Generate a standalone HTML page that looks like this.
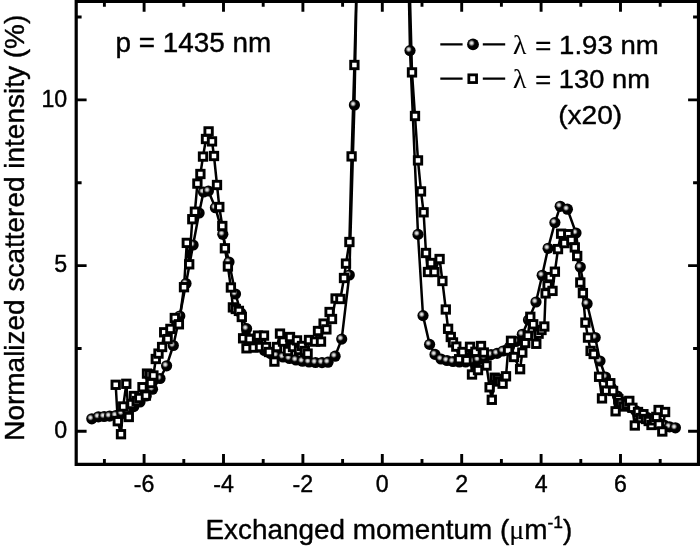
<!DOCTYPE html>
<html lang="en">
<head>
<meta charset="utf-8">
<title>Normalized scattered intensity vs exchanged momentum</title>
<style>html,body{margin:0;padding:0;background:#fff}svg{display:block}</style>
</head>
<body>
<svg width="700" height="549" viewBox="0 0 700 549">
<defs>
<radialGradient id="ball" cx="0.38" cy="0.39" r="0.69" fx="0.38" fy="0.39"><stop offset="0" stop-color="#ececec"/><stop offset="0.13" stop-color="#d4d4d4"/><stop offset="0.26" stop-color="#777"/><stop offset="0.37" stop-color="#141414"/><stop offset="0.45" stop-color="#000"/><stop offset="1" stop-color="#000"/></radialGradient>
<clipPath id="plot"><rect x="76.2" y="1.3" width="622.3" height="463"/></clipPath>
<circle id="c" r="5.6" fill="url(#ball)"/>
<rect id="s" x="-3.7" y="-3.7" width="7.4" height="7.4" fill="#fff" stroke="#000" stroke-width="2.9"/>
</defs>
<rect width="700" height="549" fill="#fff"/>
<g clip-path="url(#plot)">
<g fill="none" stroke="#000" stroke-width="2.5" stroke-linejoin="round">
<polyline points="91.8,418.8 98.4,416.8 104.1,416.5 109.6,416.1 115.9,415.5 122,413.5 127.8,410.5 133.8,406.6 140,402 146.2,396 152.5,389.2 160,378.5 166.6,365.8 173.3,345.5 179.8,316 186,283.5 193.1,245 199.1,213 203.5,192 208.4,191 215.4,207.7 222.8,234.3 229,262 235.5,294 241,313 246.6,328.7 252.5,339 258.5,346 264.5,350.5 270.5,353.5 276.5,355.5 283,357 289.5,358.5 296,360 302.5,361.2 309,362 315.5,362.5 322,362.6 328,362.2 335.1,356.2 341.7,339.1 349.3,275 354.4,105 359.4,-157"/>
<polyline points="405,-200 410,50.6 418,234.4 423,315.6 429.6,344.4 435,354.4 441,359 447,360.5 453,361.5 459.3,362 465.7,362 472,361.3 478.3,359.8 484.7,357.5 491,354.6 497,353.4 503,351 509.5,347 516,341.5 522.3,334.3 528.5,320 536,302 542.2,275.3 548.1,248.3 554.9,222.6 560.2,206.3 567.4,209.2 576,233 580.3,267 587.1,303.7 595.2,337.5 600,361 605.5,377 611.5,388 617.5,396 623.5,402 629.5,406.5 635.5,410.5 641.5,414 647.5,417.5 653.5,420.5 659,423 664,425 669.5,426.8 675.4,427.8"/>
<polyline points="115.7,384.8 117.8,421.2 121,434.2 123.2,406.5 126.3,383.8 128.8,417 131.5,404 134,396 136.7,401 139.3,398 142.5,387.2 145.9,395.6 147,373.6 150,374.3 151,383 153.4,375.5 155.8,359 158.5,353.6 162.1,347 164.2,332.3 167.6,339.1 170.4,328.9 174.8,318 178.9,324.3 184,287.2 186.8,242.9 189.2,264.3 192.3,219.2 194.9,211.7 197.4,183.6 200.4,174 203,156.6 206,139 208.6,131.4 212,141.4 214,156 217,185 219.3,207 222.3,226 224.9,248.3 227.9,266.5 230.9,287.5 232.9,307.4 235.8,309 238.9,310.9 241.8,317 243.1,338.3 246.5,348.3 249.6,339 253.6,347.6 258,335.6 260,347 264,335.6 266,347 269,352 274.4,361.6 277,347 280,333.6 283,341.6 288,351 290,337 293,347 297,340.4 299,350 302,346 304.8,351 307.6,353.6 309,340 315,341.6 318,331 321,341.6 323.6,323.6 326.4,329.4 329.6,312 332,319 335.6,298.5 340.4,299 344,278 346,263.6 349.4,242 351.6,156.4 354.4,65 357.2,-40"/>
<polyline points="409.2,-30 412,72.4 415,116 418,160.4 421,191.4 423.6,212.3 426,253 428,272 431,263 434.4,272 439.6,259 442.4,281 445.8,309.5 448.1,328.8 450.8,337 453,342.4 456.3,346.6 459.1,359.2 462.5,352 466.5,360.2 470,346.8 472,374.5 475.4,351.8 478,370.1 481,346 483.8,352.5 486.5,365.5 489.6,387.3 491.8,399.8 494.7,377.7 497.4,378.8 500,381.5 502.6,383.7 506,376.3 508.1,350.5 511,340.8 514,357 520.1,369.2 522.3,352.6 525.2,343 527.9,335.7 530.3,316.8 533.2,324.3 536.3,343.8 538.6,333.7 541.5,330 544.3,326.5 545.6,293.4 547.6,285.4 549.8,277.1 552.5,290.9 554.9,271.7 558,249.1 561.1,233.7 564.5,243.1 568.3,234.2 571.4,240.1 574.8,247.4 577.2,256 580.3,282.5 582.9,293.1 585.4,322.6 588,337.6 590.6,350.9 593.7,354 599.1,376.8 602,398.4 606.2,390.6 610.3,383.2 613.1,391 615.6,411.3 618.4,399.3 621,403 623.5,406.5 626.4,404 629.3,400.9 632.4,407.8 634.8,425.5 638,412 640.7,418 643.4,414.2 646,419 648.7,421 651.5,425 654,420.3 656.3,416.9 658.6,410 658.9,424.5 662.3,431.5 665.1,412"/>
</g>
<use href="#c" x="91.8" y="418.8"/>
<use href="#c" x="98.4" y="416.8"/>
<use href="#c" x="104.1" y="416.5"/>
<use href="#c" x="109.6" y="416.1"/>
<use href="#c" x="115.9" y="415.5"/>
<use href="#c" x="122" y="413.5"/>
<use href="#c" x="127.8" y="410.5"/>
<use href="#c" x="133.8" y="406.6"/>
<use href="#c" x="140" y="402"/>
<use href="#c" x="146.2" y="396"/>
<use href="#c" x="152.5" y="389.2"/>
<use href="#c" x="160" y="378.5"/>
<use href="#c" x="166.6" y="365.8"/>
<use href="#c" x="173.3" y="345.5"/>
<use href="#c" x="179.8" y="316"/>
<use href="#c" x="186" y="283.5"/>
<use href="#c" x="193.1" y="245"/>
<use href="#c" x="199.1" y="213"/>
<use href="#c" x="203.5" y="192"/>
<use href="#c" x="208.4" y="191"/>
<use href="#c" x="215.4" y="207.7"/>
<use href="#c" x="222.8" y="234.3"/>
<use href="#c" x="229" y="262"/>
<use href="#c" x="235.5" y="294"/>
<use href="#c" x="241" y="313"/>
<use href="#c" x="246.6" y="328.7"/>
<use href="#c" x="252.5" y="339"/>
<use href="#c" x="258.5" y="346"/>
<use href="#c" x="264.5" y="350.5"/>
<use href="#c" x="270.5" y="353.5"/>
<use href="#c" x="276.5" y="355.5"/>
<use href="#c" x="283" y="357"/>
<use href="#c" x="289.5" y="358.5"/>
<use href="#c" x="296" y="360"/>
<use href="#c" x="302.5" y="361.2"/>
<use href="#c" x="309" y="362"/>
<use href="#c" x="315.5" y="362.5"/>
<use href="#c" x="322" y="362.6"/>
<use href="#c" x="328" y="362.2"/>
<use href="#c" x="335.1" y="356.2"/>
<use href="#c" x="341.7" y="339.1"/>
<use href="#c" x="349.3" y="275"/>
<use href="#c" x="354.4" y="105"/>
<use href="#c" x="410" y="50.6"/>
<use href="#c" x="418" y="234.4"/>
<use href="#c" x="423" y="315.6"/>
<use href="#c" x="429.6" y="344.4"/>
<use href="#c" x="435" y="354.4"/>
<use href="#c" x="441" y="359"/>
<use href="#c" x="447" y="360.5"/>
<use href="#c" x="453" y="361.5"/>
<use href="#c" x="459.3" y="362"/>
<use href="#c" x="465.7" y="362"/>
<use href="#c" x="472" y="361.3"/>
<use href="#c" x="478.3" y="359.8"/>
<use href="#c" x="484.7" y="357.5"/>
<use href="#c" x="491" y="354.6"/>
<use href="#c" x="497" y="353.4"/>
<use href="#c" x="503" y="351"/>
<use href="#c" x="509.5" y="347"/>
<use href="#c" x="516" y="341.5"/>
<use href="#c" x="522.3" y="334.3"/>
<use href="#c" x="528.5" y="320"/>
<use href="#c" x="536" y="302"/>
<use href="#c" x="542.2" y="275.3"/>
<use href="#c" x="548.1" y="248.3"/>
<use href="#c" x="554.9" y="222.6"/>
<use href="#c" x="560.2" y="206.3"/>
<use href="#c" x="567.4" y="209.2"/>
<use href="#c" x="576" y="233"/>
<use href="#c" x="580.3" y="267"/>
<use href="#c" x="587.1" y="303.7"/>
<use href="#c" x="595.2" y="337.5"/>
<use href="#c" x="600" y="361"/>
<use href="#c" x="605.5" y="377"/>
<use href="#c" x="611.5" y="388"/>
<use href="#c" x="617.5" y="396"/>
<use href="#c" x="623.5" y="402"/>
<use href="#c" x="629.5" y="406.5"/>
<use href="#c" x="635.5" y="410.5"/>
<use href="#c" x="641.5" y="414"/>
<use href="#c" x="647.5" y="417.5"/>
<use href="#c" x="653.5" y="420.5"/>
<use href="#c" x="659" y="423"/>
<use href="#c" x="664" y="425"/>
<use href="#c" x="669.5" y="426.8"/>
<use href="#c" x="675.4" y="427.8"/>
<use href="#s" x="115.7" y="384.8"/>
<use href="#s" x="117.8" y="421.2"/>
<use href="#s" x="121" y="434.2"/>
<use href="#s" x="123.2" y="406.5"/>
<use href="#s" x="126.3" y="383.8"/>
<use href="#s" x="128.8" y="417"/>
<use href="#s" x="131.5" y="404"/>
<use href="#s" x="134" y="396"/>
<use href="#s" x="136.7" y="401"/>
<use href="#s" x="139.3" y="398"/>
<use href="#s" x="142.5" y="387.2"/>
<use href="#s" x="145.9" y="395.6"/>
<use href="#s" x="147" y="373.6"/>
<use href="#s" x="150" y="374.3"/>
<use href="#s" x="151" y="383"/>
<use href="#s" x="153.4" y="375.5"/>
<use href="#s" x="155.8" y="359"/>
<use href="#s" x="158.5" y="353.6"/>
<use href="#s" x="162.1" y="347"/>
<use href="#s" x="164.2" y="332.3"/>
<use href="#s" x="167.6" y="339.1"/>
<use href="#s" x="170.4" y="328.9"/>
<use href="#s" x="174.8" y="318"/>
<use href="#s" x="178.9" y="324.3"/>
<use href="#s" x="184" y="287.2"/>
<use href="#s" x="186.8" y="242.9"/>
<use href="#s" x="189.2" y="264.3"/>
<use href="#s" x="192.3" y="219.2"/>
<use href="#s" x="194.9" y="211.7"/>
<use href="#s" x="197.4" y="183.6"/>
<use href="#s" x="200.4" y="174"/>
<use href="#s" x="203" y="156.6"/>
<use href="#s" x="206" y="139"/>
<use href="#s" x="208.6" y="131.4"/>
<use href="#s" x="212" y="141.4"/>
<use href="#s" x="214" y="156"/>
<use href="#s" x="217" y="185"/>
<use href="#s" x="219.3" y="207"/>
<use href="#s" x="222.3" y="226"/>
<use href="#s" x="224.9" y="248.3"/>
<use href="#s" x="227.9" y="266.5"/>
<use href="#s" x="230.9" y="287.5"/>
<use href="#s" x="232.9" y="307.4"/>
<use href="#s" x="235.8" y="309"/>
<use href="#s" x="238.9" y="310.9"/>
<use href="#s" x="241.8" y="317"/>
<use href="#s" x="243.1" y="338.3"/>
<use href="#s" x="246.5" y="348.3"/>
<use href="#s" x="249.6" y="339"/>
<use href="#s" x="253.6" y="347.6"/>
<use href="#s" x="258" y="335.6"/>
<use href="#s" x="260" y="347"/>
<use href="#s" x="264" y="335.6"/>
<use href="#s" x="266" y="347"/>
<use href="#s" x="269" y="352"/>
<use href="#s" x="274.4" y="361.6"/>
<use href="#s" x="277" y="347"/>
<use href="#s" x="280" y="333.6"/>
<use href="#s" x="283" y="341.6"/>
<use href="#s" x="288" y="351"/>
<use href="#s" x="290" y="337"/>
<use href="#s" x="293" y="347"/>
<use href="#s" x="297" y="340.4"/>
<use href="#s" x="299" y="350"/>
<use href="#s" x="302" y="346"/>
<use href="#s" x="304.8" y="351"/>
<use href="#s" x="307.6" y="353.6"/>
<use href="#s" x="309" y="340"/>
<use href="#s" x="315" y="341.6"/>
<use href="#s" x="318" y="331"/>
<use href="#s" x="321" y="341.6"/>
<use href="#s" x="323.6" y="323.6"/>
<use href="#s" x="326.4" y="329.4"/>
<use href="#s" x="329.6" y="312"/>
<use href="#s" x="332" y="319"/>
<use href="#s" x="335.6" y="298.5"/>
<use href="#s" x="340.4" y="299"/>
<use href="#s" x="344" y="278"/>
<use href="#s" x="346" y="263.6"/>
<use href="#s" x="349.4" y="242"/>
<use href="#s" x="351.6" y="156.4"/>
<use href="#s" x="354.4" y="65"/>
<use href="#s" x="412" y="72.4"/>
<use href="#s" x="415" y="116"/>
<use href="#s" x="418" y="160.4"/>
<use href="#s" x="421" y="191.4"/>
<use href="#s" x="423.6" y="212.3"/>
<use href="#s" x="426" y="253"/>
<use href="#s" x="428" y="272"/>
<use href="#s" x="431" y="263"/>
<use href="#s" x="434.4" y="272"/>
<use href="#s" x="439.6" y="259"/>
<use href="#s" x="442.4" y="281"/>
<use href="#s" x="445.8" y="309.5"/>
<use href="#s" x="448.1" y="328.8"/>
<use href="#s" x="450.8" y="337"/>
<use href="#s" x="453" y="342.4"/>
<use href="#s" x="456.3" y="346.6"/>
<use href="#s" x="459.1" y="359.2"/>
<use href="#s" x="462.5" y="352"/>
<use href="#s" x="466.5" y="360.2"/>
<use href="#s" x="470" y="346.8"/>
<use href="#s" x="472" y="374.5"/>
<use href="#s" x="475.4" y="351.8"/>
<use href="#s" x="478" y="370.1"/>
<use href="#s" x="481" y="346"/>
<use href="#s" x="483.8" y="352.5"/>
<use href="#s" x="486.5" y="365.5"/>
<use href="#s" x="489.6" y="387.3"/>
<use href="#s" x="491.8" y="399.8"/>
<use href="#s" x="494.7" y="377.7"/>
<use href="#s" x="497.4" y="378.8"/>
<use href="#s" x="500" y="381.5"/>
<use href="#s" x="502.6" y="383.7"/>
<use href="#s" x="506" y="376.3"/>
<use href="#s" x="508.1" y="350.5"/>
<use href="#s" x="511" y="340.8"/>
<use href="#s" x="514" y="357"/>
<use href="#s" x="520.1" y="369.2"/>
<use href="#s" x="522.3" y="352.6"/>
<use href="#s" x="525.2" y="343"/>
<use href="#s" x="527.9" y="335.7"/>
<use href="#s" x="530.3" y="316.8"/>
<use href="#s" x="533.2" y="324.3"/>
<use href="#s" x="536.3" y="343.8"/>
<use href="#s" x="538.6" y="333.7"/>
<use href="#s" x="541.5" y="330"/>
<use href="#s" x="544.3" y="326.5"/>
<use href="#s" x="545.6" y="293.4"/>
<use href="#s" x="547.6" y="285.4"/>
<use href="#s" x="549.8" y="277.1"/>
<use href="#s" x="552.5" y="290.9"/>
<use href="#s" x="554.9" y="271.7"/>
<use href="#s" x="558" y="249.1"/>
<use href="#s" x="561.1" y="233.7"/>
<use href="#s" x="564.5" y="243.1"/>
<use href="#s" x="568.3" y="234.2"/>
<use href="#s" x="571.4" y="240.1"/>
<use href="#s" x="574.8" y="247.4"/>
<use href="#s" x="577.2" y="256"/>
<use href="#s" x="580.3" y="282.5"/>
<use href="#s" x="582.9" y="293.1"/>
<use href="#s" x="585.4" y="322.6"/>
<use href="#s" x="588" y="337.6"/>
<use href="#s" x="590.6" y="350.9"/>
<use href="#s" x="593.7" y="354"/>
<use href="#s" x="599.1" y="376.8"/>
<use href="#s" x="602" y="398.4"/>
<use href="#s" x="606.2" y="390.6"/>
<use href="#s" x="610.3" y="383.2"/>
<use href="#s" x="613.1" y="391"/>
<use href="#s" x="615.6" y="411.3"/>
<use href="#s" x="618.4" y="399.3"/>
<use href="#s" x="621" y="403"/>
<use href="#s" x="623.5" y="406.5"/>
<use href="#s" x="626.4" y="404"/>
<use href="#s" x="629.3" y="400.9"/>
<use href="#s" x="632.4" y="407.8"/>
<use href="#s" x="634.8" y="425.5"/>
<use href="#s" x="638" y="412"/>
<use href="#s" x="640.7" y="418"/>
<use href="#s" x="643.4" y="414.2"/>
<use href="#s" x="646" y="419"/>
<use href="#s" x="648.7" y="421"/>
<use href="#s" x="651.5" y="425"/>
<use href="#s" x="654" y="420.3"/>
<use href="#s" x="656.3" y="416.9"/>
<use href="#s" x="658.6" y="410"/>
<use href="#s" x="658.9" y="424.5"/>
<use href="#s" x="662.3" y="431.5"/>
<use href="#s" x="665.1" y="412"/>
</g>
<g stroke="#000" fill="none" stroke-linecap="butt">
<path stroke-width="3.2" d="M76.2 0 V465.9 M698.5 0 V465.9 M74.6 464.3 H700.1 M74.6 1.3 H700.1"/>
<path stroke-width="2.9" d="M104.4 464.3 v-5.4 M104.4 1.3 v5.4 M144.1 464.3 v-10.4 M144.1 1.3 v10.4 M183.8 464.3 v-5.4 M183.8 1.3 v5.4 M223.5 464.3 v-10.4 M223.5 1.3 v10.4 M263.2 464.3 v-5.4 M263.2 1.3 v5.4 M302.9 464.3 v-10.4 M302.9 1.3 v10.4 M342.6 464.3 v-5.4 M342.6 1.3 v5.4 M382.3 464.3 v-10.4 M382.3 1.3 v10.4 M422 464.3 v-5.4 M422 1.3 v5.4 M461.7 464.3 v-10.4 M461.7 1.3 v10.4 M501.4 464.3 v-5.4 M501.4 1.3 v5.4 M541.1 464.3 v-10.4 M541.1 1.3 v10.4 M580.8 464.3 v-5.4 M580.8 1.3 v5.4 M620.5 464.3 v-10.4 M620.5 1.3 v10.4 M660.2 464.3 v-5.4 M660.2 1.3 v5.4 M76.2 431.3 h10.4 M698.5 431.3 h-10.4 M76.2 348.45 h5.4 M698.5 348.45 h-5.4 M76.2 265.6 h10.4 M698.5 265.6 h-10.4 M76.2 182.75 h5.4 M698.5 182.75 h-5.4 M76.2 99.9 h10.4 M698.5 99.9 h-10.4 M76.2 17.05 h5.4 M698.5 17.05 h-5.4"/>
</g>
<g stroke="#000" stroke-width="2.2" fill="none">
<path d="M440.3 44.4 H462.6 M482.8 44.4 H505.2"/>
<path d="M440.3 78.7 H462.6 M482.8 78.7 H505.2"/>
</g>
<circle cx="473" cy="44.4" r="5.9" fill="url(#ball)"/>
<rect x="468.85" y="74.85" width="7.7" height="7.7" fill="#fff" stroke="#000" stroke-width="2.8"/>
<g font-family="'Liberation Sans', Arial, Helvetica, sans-serif" fill="#000" stroke="#000" stroke-width="0.4" stroke-linejoin="round">
<g font-size="23.2" text-anchor="middle">
<text x="144.1" y="491.6">-6</text>
<text x="223.5" y="491.6">-4</text>
<text x="302.9" y="491.6">-2</text>
<text x="382.3" y="491.6">0</text>
<text x="461.7" y="491.6">2</text>
<text x="541.1" y="491.6">4</text>
<text x="620.5" y="491.6">6</text>
</g>
<g font-size="23.2" text-anchor="end">
<text x="67.2" y="438">0</text>
<text x="67.2" y="272.3">5</text>
<text x="67.2" y="106.6">10</text>
</g>
<text x="115.4" y="52.4" font-size="27.4" textLength="155.8" lengthAdjust="spacingAndGlyphs">p = 1435 nm</text>
<text x="512.9" y="53.9" font-size="26.4"><tspan font-family="'Liberation Serif', 'DejaVu Serif', serif" font-size="27.5" stroke-width="0.1">&#955;</tspan><tspan x="527.7" textLength="131" lengthAdjust="spacingAndGlyphs"> = 1.93 nm</tspan></text>
<text x="512.9" y="87.6" font-size="26.4"><tspan font-family="'Liberation Serif', 'DejaVu Serif', serif" font-size="27.5" stroke-width="0.1">&#955;</tspan><tspan x="527.7" textLength="122.2" lengthAdjust="spacingAndGlyphs"> = 130 nm</tspan></text>
<text x="558.2" y="124.2" font-size="26.4" textLength="64" lengthAdjust="spacingAndGlyphs">(x20)</text>
<text transform="translate(205.4 539.3) scale(1.026 1)" font-size="27.2">Exchanged momentum (<tspan font-family="'Liberation Serif', 'DejaVu Serif', serif" font-size="27.2" stroke-width="0.1">&#956;</tspan>m<tspan font-size="17" dy="-11.5">-1</tspan><tspan dy="11.5">)</tspan></text>
<text transform="translate(23.8 440.8) rotate(-90)" font-size="27.2" textLength="426" lengthAdjust="spacingAndGlyphs">Normalized scattered intensity (%)</text>
</g>
</svg>
</body>
</html>
